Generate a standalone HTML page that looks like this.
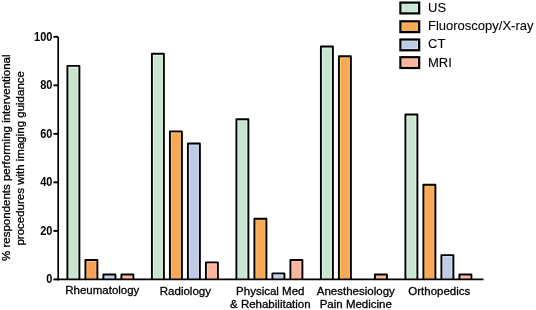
<!DOCTYPE html>
<html><head><meta charset="utf-8"><style>
html,body{margin:0;padding:0;background:#fff;}
svg{display:block;will-change:transform;font-family:"Liberation Sans",sans-serif;}
text{stroke:#000;stroke-width:0.3px;}
text[font-weight=bold]{stroke:none;}
</style></head><body>
<svg width="536" height="310" viewBox="0 0 536 310">
<rect width="536" height="310" fill="#fff"/>
<rect x="67.40" y="65.91" width="12.00" height="213.49" fill="#c9e5d2"/>
<path d="M68.95 278.80 V67.46 H77.85 V278.80" fill="none" stroke="#e6fbef" stroke-width="1" opacity="0.75"/>
<path d="M67.40 279.40 V65.91 H79.40 V279.40" fill="none" stroke="#000" stroke-width="1.9" stroke-linejoin="round"/>
<rect x="85.40" y="259.99" width="12.00" height="19.41" fill="#f4a057"/>
<path d="M86.95 278.80 V261.54 H95.85 V278.80" fill="none" stroke="#ffc862" stroke-width="1" opacity="0.75"/>
<path d="M85.40 279.40 V259.99 H97.40 V279.40" fill="none" stroke="#000" stroke-width="1.9" stroke-linejoin="round"/>
<rect x="103.40" y="274.55" width="12.00" height="4.85" fill="#bdcbe5"/>
<path d="M104.95 278.80 V276.10 H113.85 V278.80" fill="none" stroke="#dde8fb" stroke-width="1" opacity="0.75"/>
<path d="M103.40 279.40 V274.55 H115.40 V279.40" fill="none" stroke="#000" stroke-width="1.9" stroke-linejoin="round"/>
<rect x="121.40" y="274.55" width="12.00" height="4.85" fill="#f8b59c"/>
<path d="M122.95 278.80 V276.10 H131.85 V278.80" fill="none" stroke="#ffd3b8" stroke-width="1" opacity="0.75"/>
<path d="M121.40 279.40 V274.55 H133.40 V279.40" fill="none" stroke="#000" stroke-width="1.9" stroke-linejoin="round"/>
<rect x="151.90" y="53.78" width="12.00" height="225.62" fill="#c9e5d2"/>
<path d="M153.45 278.80 V55.33 H162.35 V278.80" fill="none" stroke="#e6fbef" stroke-width="1" opacity="0.75"/>
<path d="M151.90 279.40 V53.78 H163.90 V279.40" fill="none" stroke="#000" stroke-width="1.9" stroke-linejoin="round"/>
<rect x="169.90" y="131.41" width="12.00" height="147.99" fill="#f6aa58"/>
<path d="M171.45 278.80 V132.96 H180.35 V278.80" fill="none" stroke="#ffc862" stroke-width="1" opacity="0.75"/>
<path d="M169.90 279.40 V131.41 H181.90 V279.40" fill="none" stroke="#000" stroke-width="1.9" stroke-linejoin="round"/>
<rect x="187.90" y="143.54" width="12.00" height="135.86" fill="#bdcbe5"/>
<path d="M189.45 278.80 V145.09 H198.35 V278.80" fill="none" stroke="#dde8fb" stroke-width="1" opacity="0.75"/>
<path d="M187.90 279.40 V143.54 H199.90 V279.40" fill="none" stroke="#000" stroke-width="1.9" stroke-linejoin="round"/>
<rect x="205.90" y="262.42" width="12.00" height="16.98" fill="#f8b59c"/>
<path d="M207.45 278.80 V263.97 H216.35 V278.80" fill="none" stroke="#ffd3b8" stroke-width="1" opacity="0.75"/>
<path d="M205.90 279.40 V262.42 H217.90 V279.40" fill="none" stroke="#000" stroke-width="1.9" stroke-linejoin="round"/>
<rect x="236.40" y="119.28" width="12.00" height="160.12" fill="#c9e5d2"/>
<path d="M237.95 278.80 V120.83 H246.85 V278.80" fill="none" stroke="#e6fbef" stroke-width="1" opacity="0.75"/>
<path d="M236.40 279.40 V119.28 H248.40 V279.40" fill="none" stroke="#000" stroke-width="1.9" stroke-linejoin="round"/>
<rect x="254.40" y="218.75" width="12.00" height="60.65" fill="#f6aa58"/>
<path d="M255.95 278.80 V220.30 H264.85 V278.80" fill="none" stroke="#ffc862" stroke-width="1" opacity="0.75"/>
<path d="M254.40 279.40 V218.75 H266.40 V279.40" fill="none" stroke="#000" stroke-width="1.9" stroke-linejoin="round"/>
<rect x="272.40" y="273.33" width="12.00" height="6.06" fill="#bdcbe5"/>
<path d="M273.95 278.80 V274.88 H282.85 V278.80" fill="none" stroke="#dde8fb" stroke-width="1" opacity="0.75"/>
<path d="M272.40 279.40 V273.33 H284.40 V279.40" fill="none" stroke="#000" stroke-width="1.9" stroke-linejoin="round"/>
<rect x="290.40" y="259.99" width="12.00" height="19.41" fill="#f8b59c"/>
<path d="M291.95 278.80 V261.54 H300.85 V278.80" fill="none" stroke="#ffd3b8" stroke-width="1" opacity="0.75"/>
<path d="M290.40 279.40 V259.99 H302.40 V279.40" fill="none" stroke="#000" stroke-width="1.9" stroke-linejoin="round"/>
<rect x="320.90" y="46.50" width="12.00" height="232.90" fill="#c9e5d2"/>
<path d="M322.45 278.80 V48.05 H331.35 V278.80" fill="none" stroke="#e6fbef" stroke-width="1" opacity="0.75"/>
<path d="M320.90 279.40 V46.50 H332.90 V279.40" fill="none" stroke="#000" stroke-width="1.9" stroke-linejoin="round"/>
<rect x="338.90" y="56.21" width="12.00" height="223.19" fill="#f6aa58"/>
<path d="M340.45 278.80 V57.76 H349.35 V278.80" fill="none" stroke="#ffc862" stroke-width="1" opacity="0.75"/>
<path d="M338.90 279.40 V56.21 H350.90 V279.40" fill="none" stroke="#000" stroke-width="1.9" stroke-linejoin="round"/>
<rect x="374.90" y="274.55" width="12.00" height="4.85" fill="#f8b59c"/>
<path d="M376.45 278.80 V276.10 H385.35 V278.80" fill="none" stroke="#ffd3b8" stroke-width="1" opacity="0.75"/>
<path d="M374.90 279.40 V274.55 H386.90 V279.40" fill="none" stroke="#000" stroke-width="1.9" stroke-linejoin="round"/>
<rect x="405.40" y="114.43" width="12.00" height="164.97" fill="#c9e5d2"/>
<path d="M406.95 278.80 V115.98 H415.85 V278.80" fill="none" stroke="#e6fbef" stroke-width="1" opacity="0.75"/>
<path d="M405.40 279.40 V114.43 H417.40 V279.40" fill="none" stroke="#000" stroke-width="1.9" stroke-linejoin="round"/>
<rect x="423.40" y="184.79" width="12.00" height="94.61" fill="#f6aa58"/>
<path d="M424.95 278.80 V186.34 H433.85 V278.80" fill="none" stroke="#ffc862" stroke-width="1" opacity="0.75"/>
<path d="M423.40 279.40 V184.79 H435.40 V279.40" fill="none" stroke="#000" stroke-width="1.9" stroke-linejoin="round"/>
<rect x="441.40" y="255.14" width="12.00" height="24.26" fill="#bdcbe5"/>
<path d="M442.95 278.80 V256.69 H451.85 V278.80" fill="none" stroke="#dde8fb" stroke-width="1" opacity="0.75"/>
<path d="M441.40 279.40 V255.14 H453.40 V279.40" fill="none" stroke="#000" stroke-width="1.9" stroke-linejoin="round"/>
<rect x="459.40" y="274.55" width="12.00" height="4.85" fill="#f8b59c"/>
<path d="M460.95 278.80 V276.10 H469.85 V278.80" fill="none" stroke="#ffd3b8" stroke-width="1" opacity="0.75"/>
<path d="M459.40 279.40 V274.55 H471.40 V279.40" fill="none" stroke="#000" stroke-width="1.9" stroke-linejoin="round"/>
<path d="M58.2 36.8 V280.40" stroke="#000" stroke-width="1.7" fill="none"/>
<path d="M57.2 279.40 H483.5" stroke="#000" stroke-width="1.7" fill="none"/>
<path d="M53.4 279.40 H58.2" stroke="#000" stroke-width="1.9" fill="none"/>
<text transform="translate(52.5 283.30) scale(0.92 1)" text-anchor="end" font-weight="bold" font-size="12">0</text>
<path d="M53.4 230.88 H58.2" stroke="#000" stroke-width="1.9" fill="none"/>
<text transform="translate(52.5 234.78) scale(0.92 1)" text-anchor="end" font-weight="bold" font-size="12">20</text>
<path d="M53.4 182.36 H58.2" stroke="#000" stroke-width="1.9" fill="none"/>
<text transform="translate(52.5 186.26) scale(0.92 1)" text-anchor="end" font-weight="bold" font-size="12">40</text>
<path d="M53.4 133.84 H58.2" stroke="#000" stroke-width="1.9" fill="none"/>
<text transform="translate(52.5 137.74) scale(0.92 1)" text-anchor="end" font-weight="bold" font-size="12">60</text>
<path d="M53.4 85.32 H58.2" stroke="#000" stroke-width="1.9" fill="none"/>
<text transform="translate(52.5 89.22) scale(0.92 1)" text-anchor="end" font-weight="bold" font-size="12">80</text>
<path d="M53.4 36.80 H58.2" stroke="#000" stroke-width="1.9" fill="none"/>
<text transform="translate(52.5 40.70) scale(0.92 1)" text-anchor="end" font-weight="bold" font-size="12">100</text>
<text x="102.30" y="294.0" text-anchor="middle" font-size="11.5">Rheumatology</text>
<text x="185.40" y="294.5" text-anchor="middle" font-size="11.5">Radiology</text>
<text x="270.30" y="294.5" text-anchor="middle" font-size="11.5">Physical Med</text>
<text x="270.30" y="307.5" text-anchor="middle" font-size="11.5">&amp; Rehabilitation</text>
<text x="355.80" y="294.5" text-anchor="middle" font-size="11.5">Anesthesiology</text>
<text x="355.80" y="307.5" text-anchor="middle" font-size="11.5">Pain Medicine</text>
<text x="439.30" y="294.5" text-anchor="middle" font-size="11.5">Orthopedics</text>
<text transform="translate(10.3 157.7) rotate(-90)" text-anchor="middle" font-size="11.5">% respondents performing interventional</text>
<text transform="translate(24.4 158.3) rotate(-90)" text-anchor="middle" font-size="11.5">procedures with imaging guidance</text>
<rect x="400.45" y="2.65" width="18.70" height="10.70" fill="#c9e5d2" stroke="#000" stroke-width="2.3"/>
<rect x="402.10" y="4.30" width="15.40" height="7.40" fill="none" stroke="#e6fbef" stroke-width="1" opacity="0.6"/>
<text x="428.0" y="12.10" font-size="13" style="stroke-width:0.08px">US</text>
<rect x="400.45" y="21.35" width="18.70" height="10.70" fill="#f6aa58" stroke="#000" stroke-width="2.3"/>
<rect x="402.10" y="23.00" width="15.40" height="7.40" fill="none" stroke="#ffc862" stroke-width="1" opacity="0.6"/>
<text x="428.0" y="30.20" font-size="13" style="stroke-width:0.08px">Fluoroscopy/X-ray</text>
<rect x="400.45" y="39.55" width="18.70" height="10.70" fill="#bdcbe5" stroke="#000" stroke-width="2.3"/>
<rect x="402.10" y="41.20" width="15.40" height="7.40" fill="none" stroke="#dde8fb" stroke-width="1" opacity="0.6"/>
<text x="428.0" y="48.30" font-size="13" style="stroke-width:0.08px">CT</text>
<rect x="400.45" y="57.25" width="18.70" height="10.70" fill="#f8b59c" stroke="#000" stroke-width="2.3"/>
<rect x="402.10" y="58.90" width="15.40" height="7.40" fill="none" stroke="#ffd3b8" stroke-width="1" opacity="0.6"/>
<text x="428.0" y="66.80" font-size="13" style="stroke-width:0.08px">MRI</text>
</svg>
</body></html>
